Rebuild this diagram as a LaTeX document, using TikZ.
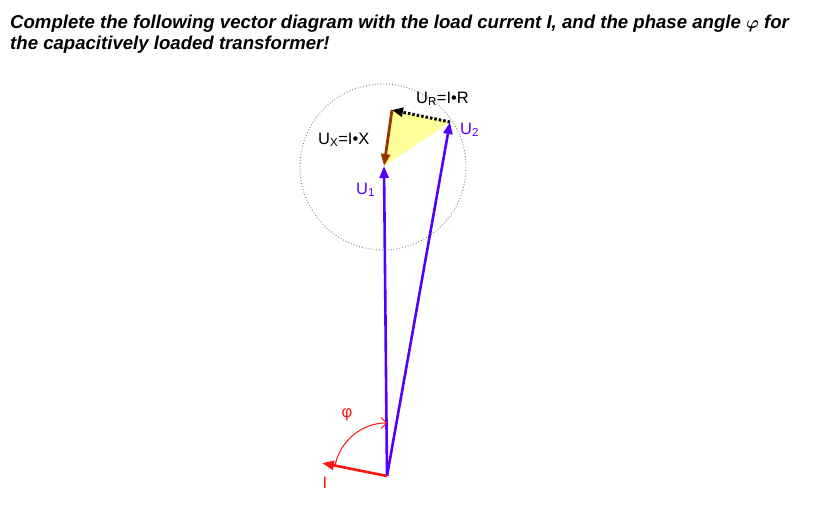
\documentclass[tikz,border=0pt]{standalone}
\usepackage{amsmath}
\usepackage{fontspec}
\setmainfont{Liberation Sans}
\usetikzlibrary{calc}
\usetikzlibrary{arrows.meta}

\definecolor{phasor}{RGB}{85,0,255}
\definecolor{reactive}{RGB}{153,51,0}
\definecolor{load}{RGB}{255,20,20}
\definecolor{pale}{RGB}{255,255,153}

\begin{document}
\begin{tikzpicture}[x=1pt, y=-1pt]
\useasboundingbox (0, 0) rectangle (821, 525);

\node [anchor=base west, inner sep=0, font=\fontsize{18.6}{21}\bfseries\itshape] (line1) at (10, 28) {Complete the following vector diagram with the load current I, and the phase angle $\boldsymbol{\varphi}$ for};
\node [anchor=base west, inner sep=0, font=\fontsize{18.6}{21}\bfseries\itshape] (line2) at (10, 49) {the capacitively loaded transformer!};

\coordinate (O) at (387, 476);
\coordinate (U1) at (384, 166);
\coordinate (U2) at (450, 122);
\coordinate (UX) at (392, 110);
\coordinate (I) at (322, 463);

\fill [color=pale] (UX) -- (U2) -- (U1) -- cycle;
\draw [color=gray, dotted, line width=0.9pt] (383, 167) circle (83);

\draw [-{Triangle[length=12pt, width=9pt]}, line width=2.6pt, phasor] (O) -- (U1);
\draw [-{Triangle[length=12pt, width=9pt]}, line width=2.6pt, phasor] (O) -- (U2);
\draw [-{Triangle[length=12pt, width=9pt]}, line width=2.8pt, reactive] (UX) -- (U1);
\draw [-{Triangle[length=11pt, width=9pt]}, line width=3pt, dash pattern=on 2.5pt off 2pt, black] (U2) -- (UX);
\draw [-{Triangle[length=12pt, width=9pt]}, line width=2.6pt, load] (O) -- (I);
\draw [-{Straight Barb[length=5pt, width=11pt]}, line width=1pt, load] ($(O)+(-168.5:53)$) arc [start angle=-168.5, end angle=-90, radius=53];

\node [anchor=base west, font=\fontsize{16.5}{18}\selectfont, inner sep=0] (labUR) at (416, 103) {U\textsubscript{R}=I•R};
\node [anchor=base west, font=\fontsize{16.5}{18}\selectfont, inner sep=0] (labUX) at (318, 144) {U\textsubscript{X}=I•X};
\node [anchor=base west, font=\fontsize{16.5}{18}\selectfont, inner sep=0, phasor] (labU2) at (460, 134) {U\textsubscript{2}};
\node [anchor=base west, font=\fontsize{16.5}{18}\selectfont, inner sep=0, phasor] (labU1) at (356, 194) {U\textsubscript{1}};
\node [font=\fontsize{16.5}{18}\selectfont, load] (labphi) at (347, 415) {φ};
\node [font=\fontsize{16.5}{18}\selectfont, load] (labI) at (325, 483) {I};
\end{tikzpicture}
\end{document}
